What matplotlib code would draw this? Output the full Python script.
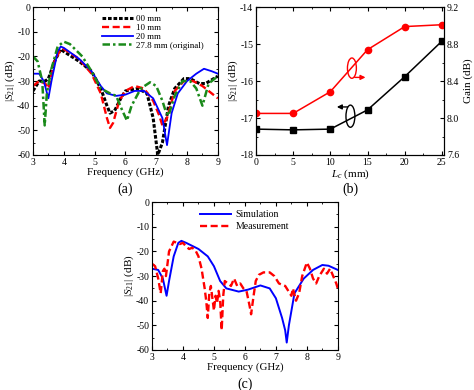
import numpy as np
import matplotlib.pyplot as plt
from matplotlib.patches import Ellipse
from matplotlib.ticker import AutoMinorLocator

plt.rcParams['font.family'] = ['Liberation Serif', 'DejaVu Serif']
plt.rcParams['mathtext.fontset'] = 'custom'
plt.rcParams['mathtext.rm'] = 'Liberation Serif'
plt.rcParams['mathtext.it'] = 'Liberation Serif:italic'
plt.rcParams['axes.unicode_minus'] = False
plt.rcParams['font.size'] = 7

# panel (a): S21 vs frequency for several Lc
f00 = [3.0, 3.2, 3.4, 3.5, 3.7, 3.9, 4.0, 4.5, 4.9, 5.2, 5.4, 5.5, 5.65, 5.85, 6.0, 6.4, 6.7, 6.9, 7.05, 7.2, 7.4, 7.6, 7.9, 8.1, 8.4, 8.6, 9.0]
s00 = [-34, -30, -30, -29, -22, -17, -18, -22, -26, -33, -40, -43, -42, -37, -34, -33, -35, -45, -60, -55, -40, -33, -29, -29, -31, -31, -28]
f10 = [3.0, 3.2, 3.4, 3.5, 3.7, 3.9, 4.0, 4.5, 4.9, 5.2, 5.4, 5.5, 5.6, 5.8, 6.0, 6.3, 6.6, 6.9, 7.1, 7.2, 7.35, 7.6, 7.9, 8.2, 8.5, 8.8, 9.0]
s10 = [-32, -30, -31, -33, -22, -17, -17, -21, -27, -35, -45, -49, -47, -38, -34, -32, -33, -38, -44, -48, -45, -34, -30, -30, -32, -35, -37]
f20 = [3.0, 3.2, 3.35, 3.5, 3.6, 3.8, 3.9, 4.0, 4.5, 4.9, 5.2, 5.4, 5.7, 6.0, 6.3, 6.6, 6.9, 7.2, 7.35, 7.5, 7.7, 8.0, 8.3, 8.55, 8.8, 9.0]
s20 = [-27, -27, -30, -37, -30, -18, -16, -16.5, -21, -26, -32, -35, -36, -35.5, -34, -34, -37, -45, -56, -43, -35, -30, -27, -25, -26, -27]
f28 = [3.0, 3.15, 3.3, 3.38, 3.45, 3.6, 3.8, 4.0, 4.2, 4.6, 4.9, 5.2, 5.5, 5.7, 5.9, 6.05, 6.2, 6.5, 6.8, 7.0, 7.2, 7.3, 7.4, 7.6, 7.85, 8.1, 8.3, 8.5, 8.7, 9.0]
s28 = [-20, -22, -30, -48, -35, -25, -16, -14, -15, -20, -26, -33, -35, -36, -42, -46, -40, -33, -30.5, -32, -38, -42, -44, -36, -30, -30, -33, -40, -31, -28]

# panel (b): S21 and gain vs Lc
lc = [0, 5, 10, 15, 20, 25]
s21_lc = [-17.3, -17.32, -17.3, -16.78, -15.88, -14.92]
gain_lc = [8.05, 8.05, 8.285, 8.74, 8.99, 9.01]

# panel (c): simulation vs measurement
f_sim = [3.0, 3.2, 3.35, 3.47, 3.55, 3.7, 3.85, 3.95, 4.1, 4.5, 4.8, 5.0, 5.2, 5.4, 5.8, 6.1, 6.5, 6.8, 7.0, 7.2, 7.3, 7.35, 7.42, 7.6, 7.9, 8.2, 8.5, 8.7, 9.0]
s_sim = [-27, -27.5, -31, -38, -32, -22, -16.5, -15.7, -16.5, -19, -22, -26, -32, -35, -36.3, -35.5, -33.8, -35, -39, -47, -52, -57, -50, -37, -31, -27.5, -25.5, -25.8, -27.5]
f_mea = [3.0, 3.1, 3.2, 3.28, 3.35, 3.4, 3.45, 3.55, 3.7, 3.8, 3.9, 4.0, 4.1, 4.2, 4.3, 4.4, 4.5, 4.6, 4.7, 4.75, 4.8, 4.85, 4.9, 4.95, 5.0, 5.05, 5.1, 5.15, 5.2, 5.25, 5.3, 5.35, 5.45, 5.55, 5.65, 5.75, 5.85, 5.95, 6.05, 6.15, 6.2, 6.28, 6.35, 6.45, 6.6, 6.8, 6.95, 7.1, 7.3, 7.4, 7.5, 7.55, 7.65, 7.75, 7.85, 8.0, 8.1, 8.2, 8.3, 8.4, 8.55, 8.65, 8.75, 8.85, 8.95, 9.0]
s_mea = [-25, -26, -31, -37, -28, -27, -30, -20, -16, -16.5, -17, -16.5, -18, -19, -18.5, -19.5, -22, -27, -35, -40, -47, -37, -34, -39, -44, -38, -41, -36, -40, -52, -38, -32, -33, -34, -31, -34, -33, -35, -36, -42, -45.5, -38, -32, -29.5, -28.5, -28.5, -30, -33, -34, -36, -38, -35, -40, -37, -30, -24.5, -27, -31, -33, -30, -27, -29, -27, -30, -33, -35]

S21 = '$|S_{21}|$ (dB)'

def style(ax):
    ax.tick_params(direction='in', which='both', top=True, right=True, labelsize=7, pad=2)
    ax.tick_params(which='major', length=3)
    ax.tick_params(which='minor', length=1.5)
    ax.xaxis.set_minor_locator(AutoMinorLocator(2))
    ax.yaxis.set_minor_locator(AutoMinorLocator(2))

fig = plt.figure(figsize=(4.74, 3.9), dpi=100)

# (a)
ax1 = fig.add_axes([0.0696, 0.6026, 0.390, 0.379])
ax1.plot(f00, s00, color='black', ls=(0, (1.2, 0.6)), lw=2.2, label='00 mm')
ax1.plot(f10, s10, color='red', ls=(0, (3, 1.5)), lw=1.7, label='10 mm')
ax1.plot(f20, s20, color='blue', lw=1.3, label='20 mm')
ax1.plot(f28, s28, color='#1a8a1a', ls=(0, (3, 1.2, 1, 1.2)), lw=1.8, label='27.8 mm (original)')
ax1.set_xlim(3, 9)
ax1.set_ylim(-60, 0)
ax1.set_xticks(range(3, 10))
ax1.set_yticks(range(-60, 1, 10))
style(ax1)
ax1.set_xlabel('Frequency (GHz)', fontsize=7.8, labelpad=0.5)
ax1.set_ylabel(S21, fontsize=8, labelpad=0)
ax1.legend(loc='upper right', bbox_to_anchor=(0.96, 0.99), frameon=False, fontsize=6.5,
           handlelength=3.4, handletextpad=0.4, labelspacing=0.05, borderpad=0.2)
fig.text(125 / 474, 1 - 189 / 390, '(a)', ha='center', va='center', fontsize=10)

# (b)
ax2 = fig.add_axes([0.540, 0.6026, 0.397, 0.379])
ax2.plot(lc, s21_lc, color='black', marker='s', ms=4, lw=1.1)
ax2.set_xlim(0, 25.3)
ax2.set_ylim(-18, -14)
ax2.set_xticks(range(0, 26, 5))
ax2.set_yticks([-18, -17, -16, -15, -14])
style(ax2)
ax2.tick_params(right=False)
ax2.set_xlabel('$L_c$ (mm)', fontsize=8, labelpad=0.5)
ax2.set_ylabel(S21, fontsize=8, labelpad=0)
ax3 = ax2.twinx()
ax3.plot(lc, gain_lc, color='red', marker='o', ms=4.5, lw=1.1)
ax3.set_ylim(7.6, 9.2)
ax3.set_yticks([7.6, 8.0, 8.4, 8.8, 9.2])
ax3.yaxis.set_major_formatter(plt.FormatStrFormatter('%.1f'))
ax3.tick_params(direction='in', which='both', labelsize=7, length=3, pad=2)
ax3.yaxis.set_minor_locator(AutoMinorLocator(2))
ax3.tick_params(which='minor', length=1.5)
ax3.set_ylabel('Gain (dB)', fontsize=8, labelpad=3)
ax2.add_patch(Ellipse((12.9, -15.65), 1.2, 0.55, fill=False, ec='red', lw=1.0))
ax2.annotate('', xy=(15.1, -15.9), xytext=(12.9, -15.9),
             arrowprops=dict(arrowstyle='-|>', color='red', lw=1.0, mutation_scale=7))
ax2.add_patch(Ellipse((12.7, -16.95), 1.2, 0.6, fill=False, ec='black', lw=1.0))
ax2.annotate('', xy=(10.5, -16.7), xytext=(12.7, -16.7),
             arrowprops=dict(arrowstyle='-|>', color='black', lw=1.0, mutation_scale=7))
fig.text(350 / 474, 1 - 189 / 390, '(b)', ha='center', va='center', fontsize=10)

# (c)
ax4 = fig.add_axes([0.3207, 0.1026, 0.392, 0.379])
ax4.plot(f_sim, s_sim, color='blue', lw=1.4, label='Simulation')
ax4.plot(f_mea, s_mea, color='red', ls=(0, (3, 1.5)), lw=1.7, label='Measurement')
ax4.set_xlim(3, 9)
ax4.set_ylim(-60, 0)
ax4.set_xticks(range(3, 10))
ax4.set_yticks(range(-60, 1, 10))
style(ax4)
ax4.set_xlabel('Frequency (GHz)', fontsize=7.8, labelpad=0.5)
ax4.set_ylabel(S21, fontsize=8, labelpad=0)
ax4.legend(loc='upper left', bbox_to_anchor=(0.22, 0.99), frameon=False, fontsize=7,
           handlelength=3.2, handletextpad=0.5, labelspacing=0.3, borderpad=0.2)
fig.text(245 / 474, 1 - 384 / 390, '(c)', ha='center', va='center', fontsize=10)

fig.savefig('out.png', dpi=100)
